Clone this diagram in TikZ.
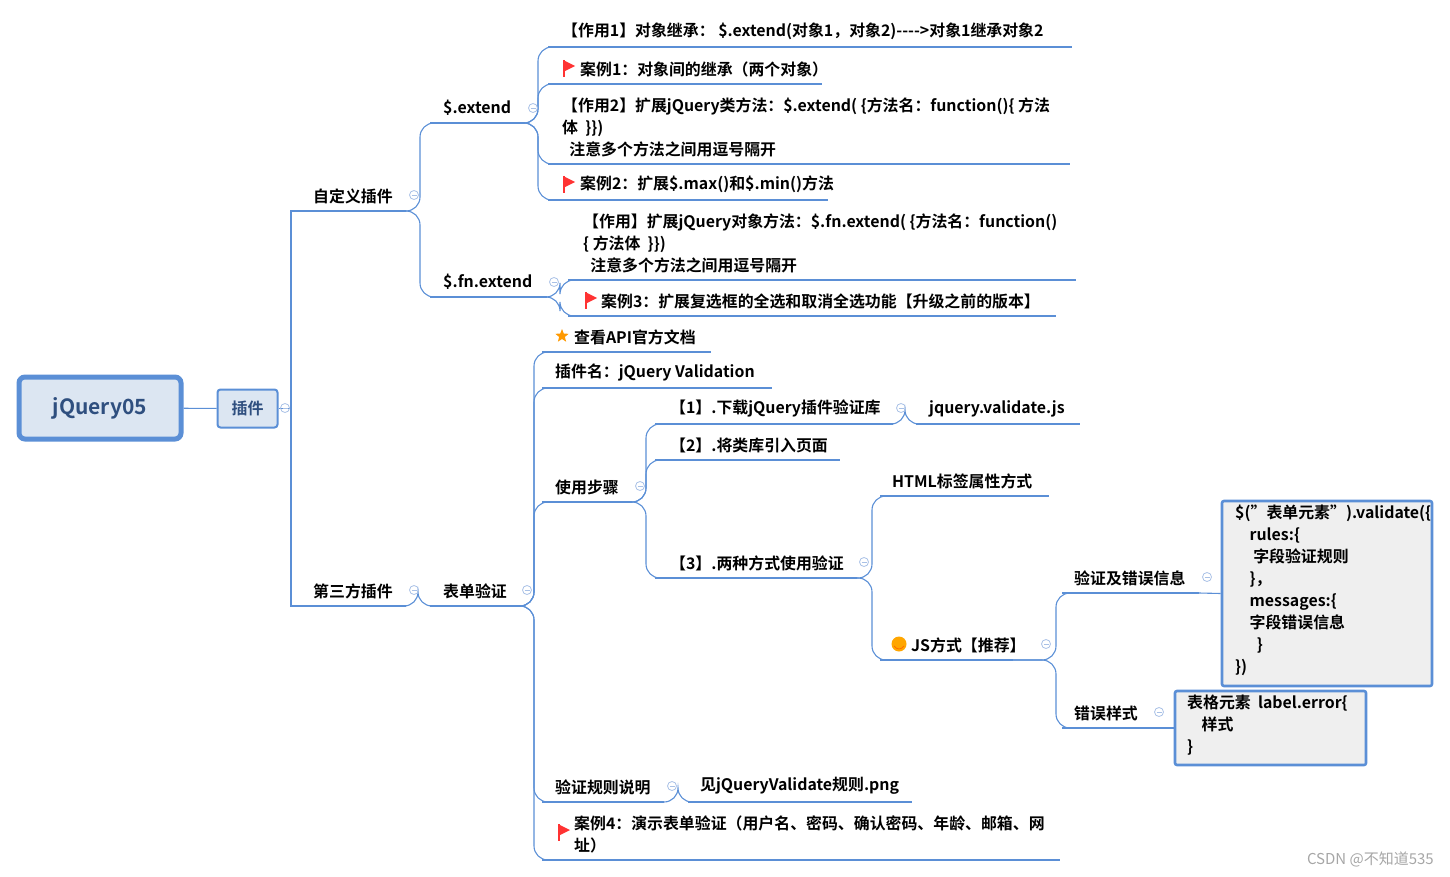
\documentclass[tikz,border=0pt]{standalone}
\usepackage{fontspec}
\setmainfont{Noto Sans CJK SC}[BoldFont={Noto Sans CJK SC Bold}]
\usetikzlibrary{shapes.geometric}
\definecolor{bl}{HTML}{5B8FD6}
\definecolor{bfill}{HTML}{DCE6F2}
\definecolor{boxg}{HTML}{EFEFEF}
\definecolor{cir}{HTML}{A9C1E6}
\definecolor{rootc}{HTML}{2F4F7F}
\tikzset{
 x=1pt,y=-1pt,
 txt/.style={inner sep=0pt,font=\fontsize{15.9}{22}\selectfont\bfseries,align=left,anchor=south west},
 uline/.style={bl,line width=2.6pt},
 conn/.style={bl,line width=1.1pt,rounded corners=14pt},
 coll/.style={cir,line width=0.8pt},
 cbox/.style={draw=bl,line width=2.6pt,fill=boxg,rounded corners=2pt,inner sep=0pt}
}
\newcommand\topic[6]{%
 \coordinate (#1L) at (#2,#4); \coordinate (#1R) at (#3,#4);
 \draw[uline] (#1L)--(#1R);
 \node[txt] (#1) at (#5,#4-7) {#6};}
\newcommand\collm[2]{\draw[coll] (#1,#2) circle (4.5); \draw[coll] (#1-2.5,#2)--(#1+2.5,#2);}
\newcommand\flagm[2]{\fill[red!80!white] (#1,#2-8)--(#1+12,#2-2)--(#1,#2+4)--cycle; \draw[red!80!white,line width=1.6pt] (#1+0.8,#2-8)--(#1+0.8,#2+9);}
\newcommand\cnx[3]{\draw[conn] (#1)--(#1-|#3)--(#3|-#2)--(#2);}
\begin{document}
\begin{tikzpicture}
\useasboundingbox (0,0) rectangle (1450,877);
% root
\node[draw=bl,line width=5pt,fill=bfill,rounded corners=6pt,minimum width=162pt,minimum height=62pt,text=rootc,font=\fontsize{21}{24}\selectfont\bfseries] (root) at (100,408) {jQuery05};
\node[draw=bl,line width=2pt,fill=bfill,rounded corners=3pt,minimum width=60pt,minimum height=38pt,text=rootc,font=\fontsize{16}{20}\selectfont\bfseries] (cj) at (247.5,408.5) {插件};
\draw[bl,line width=1.1pt] (root)--(cj);
% level 2
\topic{zdy}{300}{406}{211}{313}{自定义插件}
\topic{dsf}{300}{406}{606}{313}{第三方插件}
\coordinate (t1) at (291,0);
\draw[bl,line width=1.1pt] (cj.east)--(cj.east-|t1)--(t1|-zdyL)--(zdyL);
\draw[bl,line width=1.1pt] (cj.east-|t1)--(t1|-dsfL)--(dsfL);
% extend
\topic{ext}{430}{525}{123}{443}{\$.extend}
\topic{fne}{430}{547}{297}{443}{\$.fn.extend}
\coordinate (t2) at (420,0);
\cnx{zdyR}{extL}{t2}\cnx{zdyR}{fneL}{t2}
\topic{a1}{548}{1072}{47}{562}{【作用1】对象继承： \$.extend(对象1，对象2)-{}-{}-{}->对象1继承对象2}
\topic{a2}{548}{822}{84}{580}{案例1：对象间的继承（两个对象）}
\topic{a3}{548}{1070}{164}{562}{【作用2】扩展jQuery类方法：\$.extend( \{方法名：function()\{ 方法\\体 \ \}\})\\\ \ 注意多个方法之间用逗号隔开}
\topic{a4}{548}{828}{200}{580}{案例2：扩展\$.max()和\$.min()方法}
\coordinate (t3) at (538,0);
\cnx{extR}{a1L}{t3}\cnx{extR}{a2L}{t3}\cnx{extR}{a3L}{t3}\cnx{extR}{a4L}{t3}
\flagm{563}{68}\flagm{563}{184}
\topic{b1}{568}{1076}{280}{583}{【作用】扩展jQuery对象方法：\$.fn.extend( \{方法名：function()\\\{ 方法体 \ \}\})\\\ \ 注意多个方法之间用逗号隔开}
\topic{b2}{568}{1056}{316}{601}{案例3：扩展复选框的全选和取消全选功能【升级之前的版本】}
\coordinate (t4) at (560,0);
\cnx{fneR}{b1L}{t4}\cnx{fneR}{b2L}{t4}
\flagm{585}{300}
% third party
\topic{bd}{430}{520}{606}{443}{表单验证}
\coordinate (t5) at (418,0);
\cnx{dsfR}{bdL}{t5}
\topic{c1}{542}{711}{352}{574}{查看API官方文档}
\topic{c2}{542}{772}{388}{555}{插件名：jQuery Validation}
\topic{c3}{542}{632}{502}{555}{使用步骤}
\topic{c4}{542}{664}{802}{555}{验证规则说明}
\topic{c5}{542}{1060}{860}{574}{案例4：演示表单验证（用户名、密码、确认密码、年龄、邮箱、网\\址）}
\coordinate (t6) at (534,0);
\cnx{bdR}{c1L}{t6}\cnx{bdR}{c2L}{t6}\cnx{bdR}{c3L}{t6}\cnx{bdR}{c4L}{t6}\cnx{bdR}{c5L}{t6}
\node[star,star points=5,star point ratio=2.3,fill=orange!80!yellow,inner sep=0pt,minimum size=14pt] (st) at (562,336) {};
\flagm{558}{832}
\topic{c41}{688}{912}{802}{700}{见jQueryValidate规则.png}
\coordinate (t7) at (678,0);
\cnx{c4R}{c41L}{t7}
% steps
\topic{d1}{655}{893}{424}{670}{【1】.下载jQuery插件验证库}
\topic{d2}{655}{840}{460}{670}{【2】.将类库引入页面}
\topic{d3}{655}{857}{578}{670}{【3】.两种方式使用验证}
\coordinate (t8) at (646,0);
\cnx{c3R}{d1L}{t8}\cnx{c3R}{d2L}{t8}\cnx{c3R}{d3L}{t8}
\topic{d11}{916}{1080}{424}{929}{jquery.validate.js}
\coordinate (t9) at (905,0);
\cnx{d1R}{d11L}{t9}
\topic{e1}{880}{1049}{496}{892}{HTML标签属性方式}
\topic{e2}{880}{1013}{660}{911}{JS方式【推荐】}
\coordinate (t10) at (872,0);
\cnx{d3R}{e1L}{t10}\cnx{d3R}{e2L}{t10}
\fill[orange!70!yellow] (899,644) circle (7.5);
\draw[orange!80!red,line width=0.7pt] (894,646) .. controls (897,650) and (901,650) .. (904,646);
\topic{f1}{1062}{1199}{593}{1074}{验证及错误信息}
\topic{f2}{1062}{1151}{728}{1074}{错误样式}
\coordinate (t11) at (1056,0);
\cnx{e2R}{f1L}{t11}\cnx{e2R}{f2L}{t11}
\node[cbox,minimum width=210pt,minimum height=185pt] (g1) at (1327,593.5) {};
\node[txt,anchor=north west] (g1t) at (1235,505) {\$(\symbol{34}表单元素\symbol{34}).validate(\{\\\ \ \ \ rules:\{\\\ \ \ \ \ 字段验证规则\\\ \ \ \ \}，\\\ \ \ \ messages:\{\\\ \ \ \ 字段错误信息\\\ \ \ \ \ \ \}\\\})};
\node[cbox,minimum width=191pt,minimum height=74pt] (g2) at (1270.5,728) {};
\node[txt,anchor=north west] (g2t) at (1187,695) {表格元素 \ label.error\{\\\ \ \ \ 样式\\\}};
\draw[bl,line width=1.1pt] (f1R)--(g1.west);
\draw[bl,line width=1.1pt] (f2R)--(g2.west);
% collapse marks
\collm{285}{408}\collm{414}{195}\collm{533}{108}\collm{554}{282}
\collm{414}{590}\collm{527}{590}\collm{640}{486}\collm{672}{786}
\collm{901}{408}\collm{864}{562}\collm{1046}{644}\collm{1207}{577}\collm{1159}{712}
\node[inner sep=0pt,anchor=south east,text=gray!70,font=\fontsize{15}{16}\selectfont] (wm) at (1434,867) {CSDN @不知道535};
\end{tikzpicture}
\end{document}
